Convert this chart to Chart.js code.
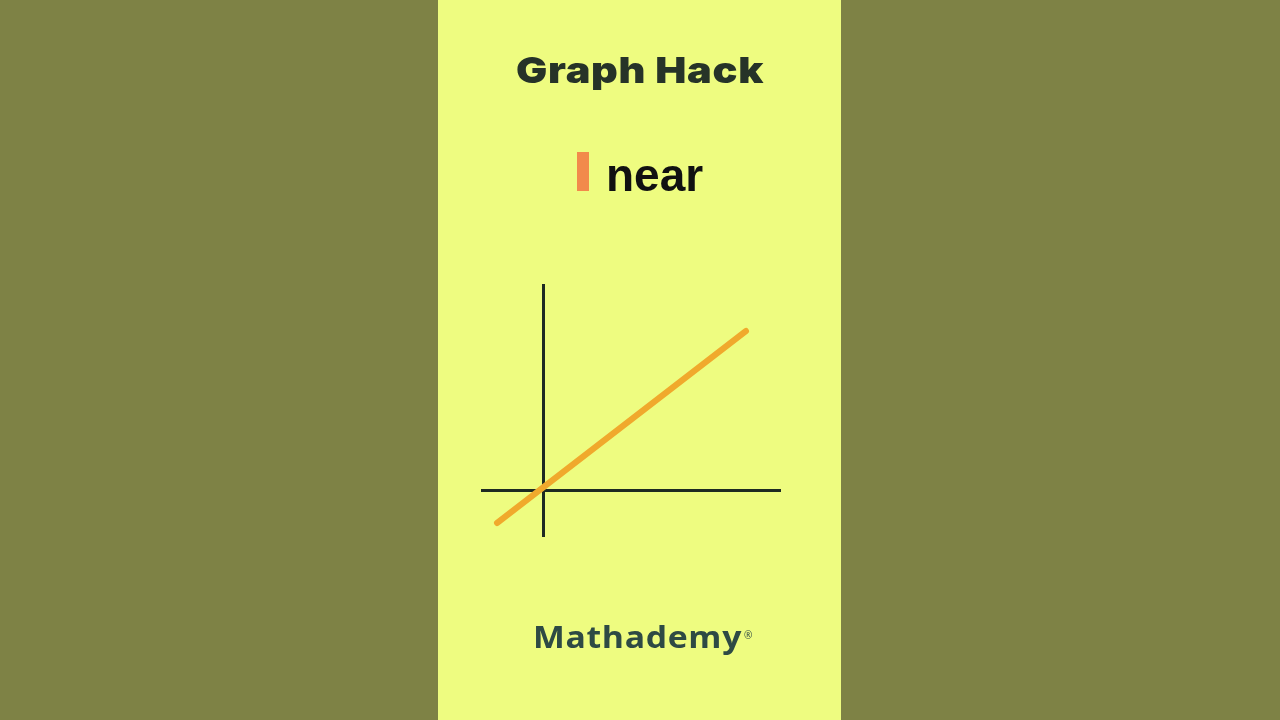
<!DOCTYPE html>
<html><head><meta charset="utf-8">
<script src="https://cdn.jsdelivr.net/npm/chart.js@4/dist/chart.umd.min.js"></script>
<style>
html,body{margin:0;padding:0;width:1280px;height:720px;overflow:hidden;background:#7e8245;}
#panel{position:absolute;left:438px;top:0;width:403px;height:720px;background:#eefc80;}
#c{position:absolute;left:0;top:0;}
.t{position:absolute;white-space:nowrap;}
.s{display:inline-block;transform-origin:0 0;}
#title{left:516px;top:52px;font:900 36px/36px Inter,sans-serif;color:#263328;letter-spacing:0.6px;}
#bar{position:absolute;left:577px;top:152px;width:12px;height:39px;background:#f28a4b;}
#word{left:606px;top:152px;font:700 46px/46px "Liberation Sans",Arial,sans-serif;color:#111;width:97px;overflow:hidden;}
#logo{left:533px;top:621px;font:700 31px/31px "Open Sans",sans-serif;color:#2e4a44;letter-spacing:0.6px;}
#reg{left:744px;top:630px;font:400 10px/10px "Open Sans",sans-serif;color:#2e4a44;}
</style></head>
<body>
<div id="panel"></div>
<canvas id="c" width="1280" height="720"></canvas>
<div class="t" id="title"><span class="s" data-w="248">Graph Hack</span></div>
<div id="bar"></div>
<div class="t" id="word">near</div>
<div class="t" id="logo"><span class="s" data-w="209">Mathademy</span></div>
<div class="t" id="reg">®</div>
<script>
document.querySelectorAll('.s').forEach(el=>{
  const w = el.getBoundingClientRect().width;
  el.style.transform = 'scaleX(' + (parseFloat(el.dataset.w)/w) + ')';
});

const lineX = [-0.92, 4.06];
const lineY = [-0.66, 3.18];
const xRange = [-1.24, 4.76];
const yRange = [-0.94, 4.12];
const axisValues = [0];

const pts = lineX.map((x,i)=>({x:x,y:lineY[i]}));
const axisOpts = (range)=>({
  type:'linear', min:range[0], max:range[1],
  afterBuildTicks:(ax)=>{ ax.ticks = axisValues.map(v=>({value:v})); },
  ticks:{display:false},
  border:{display:false},
  grid:{color:'#1e2a22', lineWidth:3, drawTicks:false}
});
new Chart(document.getElementById('c'),{
  type:'scatter',
  data:{datasets:[{data:pts, showLine:true, borderColor:'#f0a92c', borderWidth:6,
    borderCapStyle:'round', pointRadius:0}]},
  options:{
    responsive:false, animation:false,
    layout:{padding:{left:481,right:499,top:284,bottom:183}},
    plugins:{legend:{display:false},tooltip:{enabled:false}},
    scales:{x:axisOpts(xRange), y:axisOpts(yRange)}
  }
});
</script>
</body></html>
